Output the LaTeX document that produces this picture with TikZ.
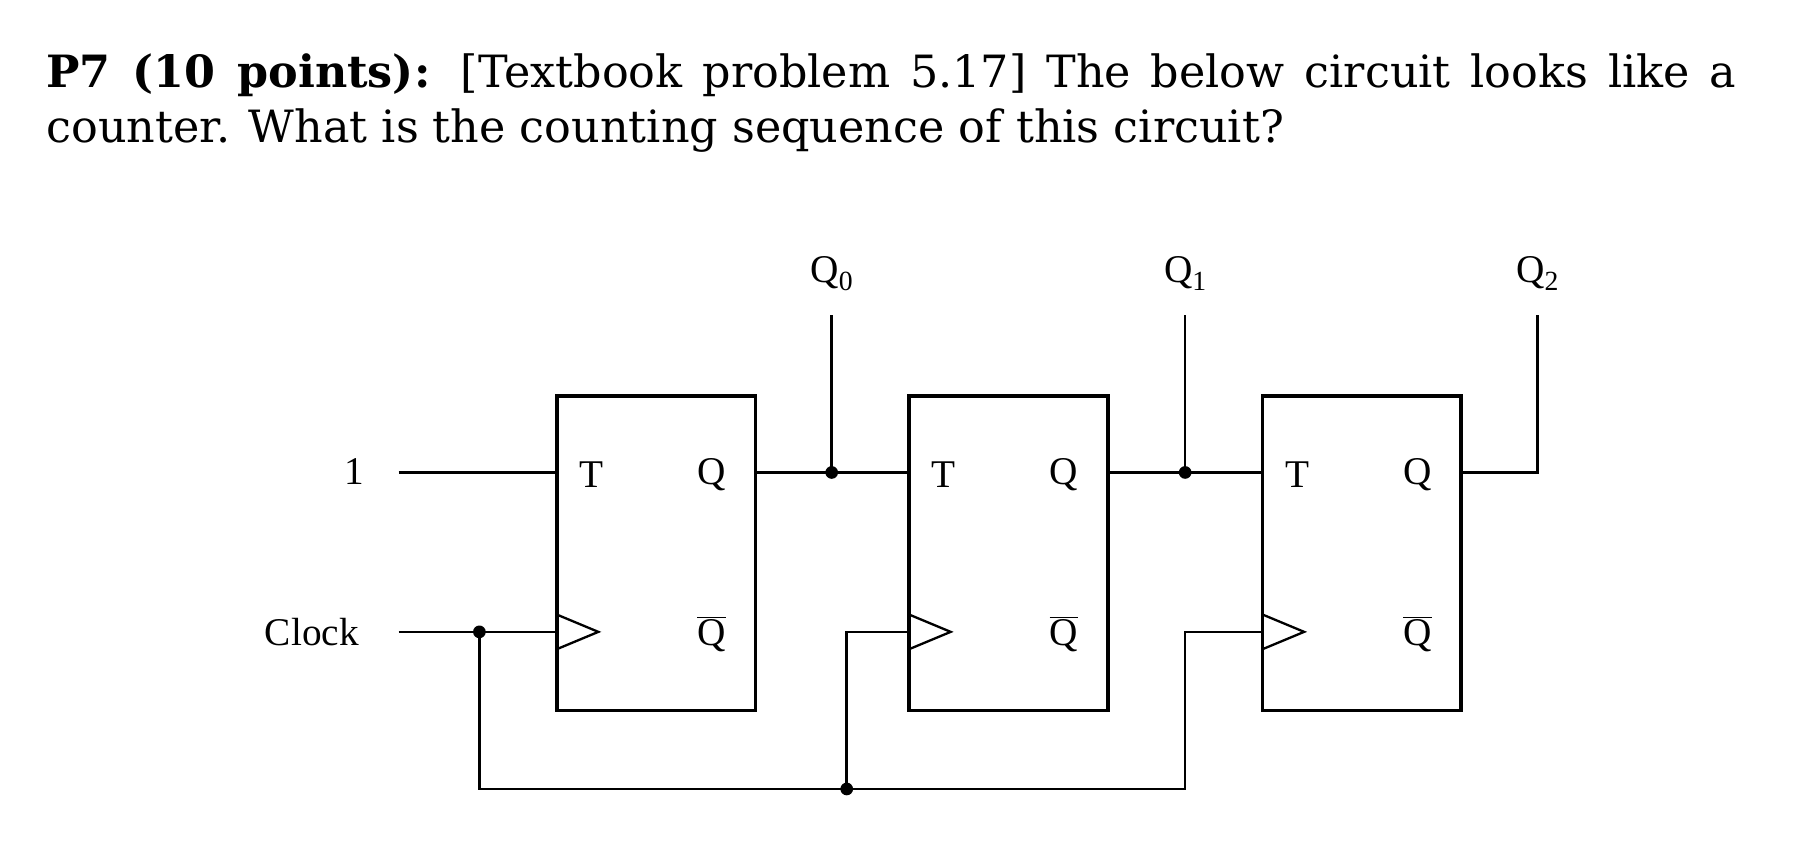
\documentclass[tikz,border=0pt]{standalone}
\usepackage{fontspec}
\setmainfont{Liberation Serif}
\newfontfamily\titlefont{DejaVu Serif}
\newcommand{\sbs}[1]{\raisebox{-7pt}{\fontsize{24}{24}\selectfont #1}}
\begin{document}
\begin{tikzpicture}[x=1pt,y=-1pt,
  wire/.style={line width=2.2pt},
  ff/.style={draw,line width=3.2pt,minimum width=172pt,minimum height=272pt,inner sep=0pt},
  lbl/.style={font=\fontsize{34}{40}\selectfont,inner sep=0pt},
  dotc/.style={circle,fill,inner sep=0pt,minimum size=11pt}]
\useasboundingbox (0,0) rectangle (1560,745);
\node[anchor=north west,inner sep=0pt,text width=1463pt,align=justify,font=\titlefont\fontsize{38.5}{48}\selectfont] (title) at (40,46)
 {\textbf{P7 (10 points):} [Textbook problem 5.17] The below circuit looks like a\linebreak counter. What is the counting sequence of this circuit?};
\foreach \i/\x in {1/568,2/873,3/1179}{
  \node[ff] (f\i) at (\x,479) {};
  \node[lbl] at (\x-56,411) {T};
  \node[lbl] at (\x+48,411) {Q};
  \node[lbl] at (\x+48,549) {$\overline{\mbox{Q}}$};
  \draw[line width=2pt] (\x-86,532) -- (\x-50,547) -- (\x-86,562);
}
\node[lbl] (one) at (307,408) {1};
\node[lbl] (clk) at (270,547) {Clock};
\coordinate (q0) at (720,273); \coordinate (q1) at (1026,273); \coordinate (q2) at (1331,273);
\node[lbl] at (720,237) {Q\sbs{0}};
\node[lbl] at (1026,237) {Q\sbs{1}};
\node[lbl] at (1331,237) {Q\sbs{2}};
\node[dotc] (d0) at (720,409) {};
\node[dotc] (d1) at (1026,409) {};
\node[dotc] (dc) at (415,547) {};
\node[dotc] (db) at (733,683) {};
\draw[wire] (345,409) -- (482,409);
\draw[wire] (654,409) -- (788,409);
\draw[wire] (958,409) -- (1094,409);
\draw[wire] (1265,409) -- (1331,409) -- (q2);
\draw[wire] (d0.center) -- (q0);
\draw[wire] (d1.center) -- (q1);
\draw[wire] (345,547) -- (482,547);
\draw[wire] (dc.center) -- (415,683) -- (1026,683) -- (1026,547) -- (1094,547);
\draw[wire] (db.center) -- (733,547) -- (788,547);
\end{tikzpicture}
\end{document}
